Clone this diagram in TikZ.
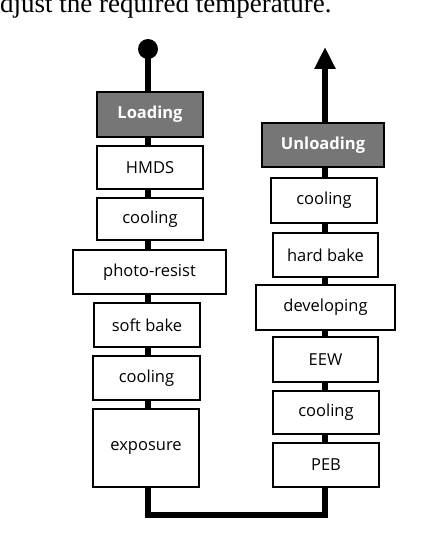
\documentclass[tikz,border=0pt]{standalone}
\usepackage{fontspec}
\setmainfont{Open Sans}
\newfontfamily\serifpage{Liberation Serif}
\usetikzlibrary{arrows.meta}
\definecolor{boxgray}{RGB}{118,118,118}
\tikzset{
  stepbox/.style={draw=black, line width=1.4pt, fill=white, inner sep=0pt, font=\fontsize{16.5}{19}\selectfont},
  graybox/.style={stepbox, fill=boxgray, text=white, font=\fontsize{16.5}{19}\selectfont\bfseries},
  conn/.style={line width=6pt, black, line join=miter},
}
\begin{document}
\begin{tikzpicture}[x=1pt, y=-1pt]
\useasboundingbox (0,0) rectangle (434,556);
% clipped page text above the figure
\node[anchor=base west, inner sep=0pt, font=\serifpage\fontsize{27}{30}\selectfont] (pagetext) at (-12,12.5) {adjust the required temperature.};
% start marker and spine anchors
\node[circle, fill=black, minimum size=20pt, inner sep=0pt] (dot) at (148,49) {};
\coordinate (tip) at (325,47);
\coordinate (c1) at (148,515);
\coordinate (c2) at (325,515);
% connectors (drawn first, boxes on top)
\draw[conn] (dot.center) -- (c1) -- (c2) -- (325,80);
\draw[conn, -{Triangle[width=20pt,length=22pt]}] (325,100) -- (tip);
% left column
\node[graybox, minimum width=106pt, minimum height=45pt] (load) at (150,114.5) {Loading};
\node[stepbox, minimum width=106pt, minimum height=43pt] (hmds) at (150,167.5) {HMDS};
\node[stepbox, minimum width=106pt, minimum height=42pt] (cool1) at (150,219) {cooling};
\node[stepbox, minimum width=153pt, minimum height=44pt] (resist) at (149.5,272) {photo-resist};
\node[stepbox, minimum width=106pt, minimum height=44pt] (soft) at (147,325) {soft bake};
\node[stepbox, minimum width=107pt, minimum height=44pt] (cool2) at (146.5,378) {cooling};
\node[stepbox, minimum width=106pt, minimum height=78pt] (expo) at (146,448) {exposure};
% right column
\node[graybox, minimum width=122pt, minimum height=44pt] (unload) at (323,145) {Unloading};
\node[stepbox, minimum width=106pt, minimum height=45pt] (cool4) at (324,200.5) {cooling};
\node[stepbox, minimum width=105pt, minimum height=44pt] (hard) at (325.5,255) {hard bake};
\node[stepbox, minimum width=139pt, minimum height=45pt] (dev) at (325.5,307.5) {developing};
\node[stepbox, minimum width=105pt, minimum height=45pt] (eew) at (325.5,359.5) {EEW};
\node[stepbox, minimum width=106pt, minimum height=43pt] (cool3) at (326,412.5) {cooling};
\node[stepbox, minimum width=106pt, minimum height=44pt] (peb) at (326,465) {PEB};
\end{tikzpicture}
\end{document}
